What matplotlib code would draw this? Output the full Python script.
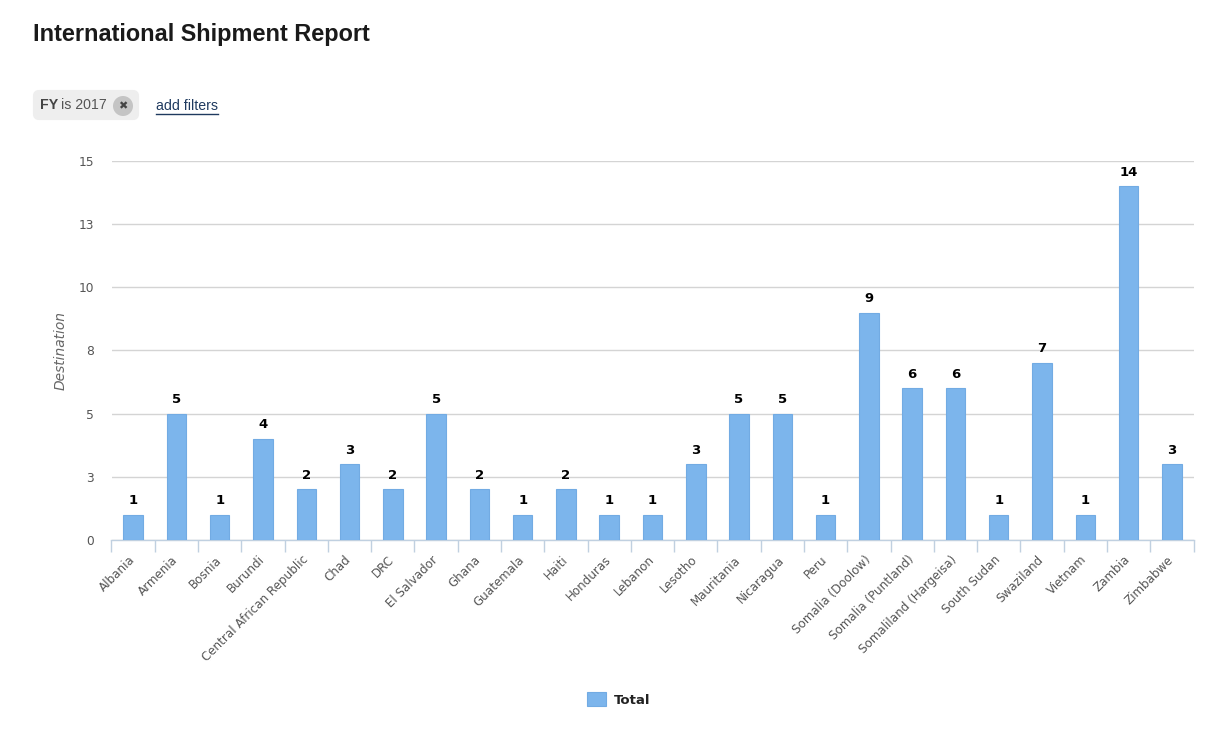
import numpy as np
import matplotlib
matplotlib.use("Agg")
import matplotlib.pyplot as plt
from matplotlib.patches import FancyBboxPatch, Circle
from matplotlib.transforms import ScaledTranslation

# Data
countries = ['Albania', 'Armenia', 'Bosnia', 'Burundi', 'Central African Republic',
             'Chad', 'DRC', 'El Salvador', 'Ghana', 'Guatemala', 'Haiti', 'Honduras',
             'Lebanon', 'Lesotho', 'Mauritania', 'Nicaragua', 'Peru', 'Somalia (Doolow)',
             'Somalia (Puntland)', 'Somaliland (Hargeisa)', 'South Sudan', 'Swaziland',
             'Vietnam', 'Zambia', 'Zimbabwe']
totals = [1, 5, 1, 4, 2, 3, 2, 5, 2, 1, 2, 1, 1, 3, 5, 5, 1, 9, 6, 6, 1, 7, 1, 14, 3]
y_ticks = [0, 2.5, 5, 7.5, 10, 12.5, 15]
y_tick_labels = ['0', '3', '5', '8', '10', '13', '15']

W, H = 1229, 729
BAR_COLOR = '#7CB5EC'
BAR_EDGE = '#72ABE3'
LABEL_COLOR = '#555555'

fig = plt.figure(figsize=(W / 100, H / 100), dpi=100, facecolor='white')

# Overlay in pixel coords for the page elements above the chart
page = fig.add_axes([0, 0, 1, 1])
page.set_xlim(0, W)
page.set_ylim(H, 0)
page.axis('off')

page.text(33, 34, 'International Shipment Report', fontsize=16.9, fontweight='bold',
          family='Liberation Sans', color='#1a1a1a', va='center', ha='left')

page.add_patch(FancyBboxPatch((35, 92), 102, 26, boxstyle='round,pad=0,rounding_size=4',
                              mutation_aspect=1, fc='#EEEEEE', ec='#EEEEEE', lw=3))
page.text(40, 105, 'FY', fontsize=10.2, fontweight='bold', family='Liberation Sans',
          color='#444444', va='center')
page.text(61, 105, 'is 2017', fontsize=10.2, family='Liberation Sans',
          color='#555555', va='center')
page.add_patch(Circle((123, 106), 10, fc='#C4C4C4', ec='none'))
page.text(123, 106, '\u2716', fontsize=8, family='DejaVu Sans', color='#444444',
          va='center', ha='center')
page.text(156, 106, 'add filters', fontsize=10.2, family='Liberation Sans',
          color='#1F3A5F', va='center', ha='left')
page.plot([156, 218], [113.5, 113.5], color='#1F3A5F', lw=1)

page.text(61, 350, 'Destination', fontsize=9.9, style='italic', color='#666666',
          rotation=90, va='center', ha='center')

# Chart
ax = fig.add_axes([111.5 / W, 1 - 540 / H, (1193.5 - 111.5) / W, (540 - 161) / H])
ax.patch.set_alpha(0)
x = np.arange(len(countries))
bars = ax.bar(x, totals, width=0.45, color=BAR_COLOR, edgecolor=BAR_EDGE, lw=0.8,
              zorder=3, label='Total')
ax.bar_label(bars, padding=5.5, fontsize=9.5, fontweight='bold', color='black', zorder=4)

ax.set_xlim(-0.5, len(countries) - 0.5)
ax.set_ylim(0, 15)

ax.set_yticks(y_ticks)
ax.set_yticklabels(y_tick_labels, fontsize=8.8, color=LABEL_COLOR)
ax.tick_params(axis='y', length=0, pad=12.5)
ax.grid(axis='y', color='#D4D4D4', lw=1, zorder=0)
ax.set_axisbelow(True)

ax.set_xticks(x)
ax.set_xticklabels(countries, rotation=45, ha='right', rotation_mode='anchor',
                   fontsize=8.6, color=LABEL_COLOR)
ax.tick_params(axis='x', which='major', length=0, pad=9.5)
ax.set_xticks(np.arange(-0.5, len(countries)), minor=True)
ax.tick_params(axis='x', which='minor', length=8.5, width=1, color='#C0D0E0')

# labels sit a little left of the category centre
shift = ScaledTranslation(-5 / 72 * 0.72, 0, fig.dpi_scale_trans)
for lab in ax.get_xticklabels():
    lab.set_transform(lab.get_transform() + shift)

for side in ['top', 'left', 'right']:
    ax.spines[side].set_visible(False)
ax.spines['bottom'].set_color('#C0D0E0')
ax.spines['bottom'].set_linewidth(1)

leg = fig.legend(loc='center', bbox_to_anchor=(618.5 / W, 1 - 699.5 / H), frameon=False,
                 handlelength=1.4, handleheight=1.2, handletextpad=0.6,
                 prop={'size': 9.5, 'weight': 'bold'})
for t in leg.get_texts():
    t.set_color('#222222')

fig.savefig('out.png', dpi=100, facecolor='white')
